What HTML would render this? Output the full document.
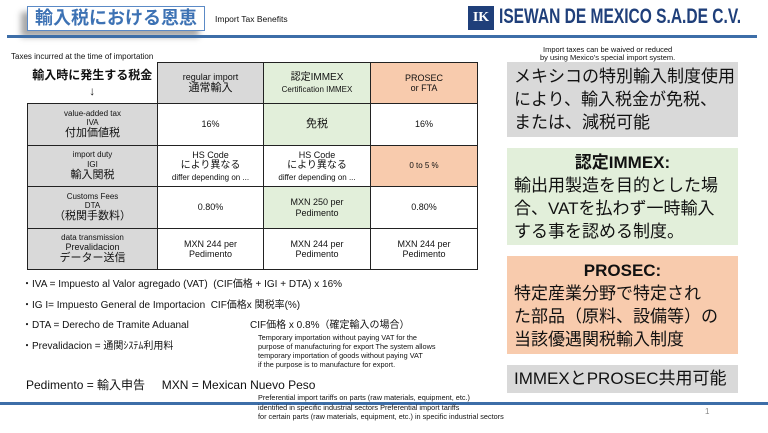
<!DOCTYPE html>
<html><head><meta charset="utf-8"><style>
*{margin:0;padding:0;box-sizing:border-box}
body{width:768px;height:433px;background:#fff;position:relative;overflow:hidden;font-family:"Liberation Sans","Noto Sans CJK JP",sans-serif;color:#111}
.a{position:absolute;white-space:nowrap}
table{position:absolute;left:27px;top:62px;border-collapse:collapse;table-layout:fixed}
td{border:1.3px solid #222;text-align:center;vertical-align:middle;font-size:9px;line-height:1.15;padding:0;overflow:hidden}
.g{background:#d9d9d9}.gr{background:#e2efda}.o{background:#f8cbad}
.s{font-size:8px}.j{font-size:11px}
.box{position:absolute;left:507px;width:231px;font-size:17px;line-height:23px;padding:3px 7px;color:#111;white-space:nowrap;overflow:hidden}
</style></head><body>
<div class="a" style="left:27px;top:6px;width:178px;height:25px;border:1.5px solid #5b8ac6;box-shadow:-6px 6px 6px rgba(0,0,0,.35);background:#fff;color:#3d72b4;font-size:18px;font-weight:bold;text-align:center;line-height:22px">輸入税における恩恵</div>
<div class="a" style="left:215px;top:14px;font-size:8.5px">Import Tax Benefits</div>
<div class="a" style="left:468px;top:6px;width:26px;height:24px;background:#1f3f7a;color:#fff;font-weight:bold;font-size:14px;text-align:center;line-height:24px;font-family:'Liberation Serif',serif">IK</div>
<div class="a" style="left:499px;top:5px;font-size:21px;font-weight:bold;color:#1f3f7a;transform:scaleX(.74);transform-origin:left">ISEWAN DE MEXICO S.A.DE C.V.</div>
<div class="a" style="left:7px;top:35px;width:750px;height:3px;background:#3d6ea8"></div>
<div class="a" style="left:11px;top:52px;font-size:8px">Taxes incurred at the time of importation</div>
<table>
<colgroup><col style="width:130px"><col style="width:106px"><col style="width:107px"><col style="width:107px"></colgroup>
<tr style="height:41px"><td style="border:none;font-weight:bold;font-size:12px;line-height:16px">輸入時に発生する税金<br>↓</td><td class="g">regular import<br><span class="j">通常輸入</span></td><td class="gr"><span style="font-size:10px">認定IMMEX</span><br><span class="s">Certification IMMEX</span></td><td class="o">PROSEC<br>or FTA</td></tr>
<tr style="height:42px"><td class="g s">value-added tax<br>IVA<br><span class="j">付加価値税</span></td><td>16%</td><td class="gr j">免税</td><td>16%</td></tr>
<tr style="height:41px"><td class="g s">import duty<br>IGI<br><span class="j">輸入関税</span></td><td>HS Code<br><span style="font-size:10px">により異なる</span><br><span class="s">differ depending on ...</span></td><td>HS Code<br><span style="font-size:10px">により異なる</span><br><span class="s">differ depending on ...</span></td><td class="o s">0 to 5 %</td></tr>
<tr style="height:42px"><td class="g s">Customs Fees<br>DTA<br><span class="j">（税関手数料）</span></td><td>0.80%</td><td class="gr">MXN 250 per<br>Pedimento</td><td>0.80%</td></tr>
<tr style="height:41px"><td class="g s">data transmission<br><span style="font-size:9px">Prevalidacion</span><br><span class="j">データー送信</span></td><td>MXN 244 per<br>Pedimento</td><td>MXN 244 per<br>Pedimento</td><td>MXN 244 per<br>Pedimento</td></tr>
</table>
<div class="a" style="left:22px;top:275px;font-size:10px">・IVA = Impuesto al Valor agregado (VAT) &nbsp;(CIF価格 + IGI + DTA) x 16%</div>
<div class="a" style="left:22px;top:296px;font-size:10px">・IG I= Impuesto General de Importacion &nbsp;CIF価格x 関税率(%)</div>
<div class="a" style="left:22px;top:316px;font-size:10px">・DTA = Derecho de Tramite Aduanal</div>
<div class="a" style="left:250px;top:316px;font-size:10px">CIF価格 x 0.8%（確定輸入の場合）</div>
<div class="a" style="left:22px;top:337px;font-size:10px">・Prevalidacion = 通関ｼｽﾃﾑ利用料</div>
<div class="a" style="left:258px;top:333px;font-size:7.3px;line-height:9px">Temporary importation without paying VAT for the<br>purpose of manufacturing for export The system allows<br>temporary importation of goods without paying VAT<br>if the purpose is to manufacture for export.</div>
<div class="a" style="left:26px;top:376px;font-size:12px">Pedimento = 輸入申告 &nbsp;&nbsp;&nbsp;&nbsp;MXN = Mexican Nuevo Peso</div>
<div class="a" style="left:0;top:402px;width:768px;height:3px;background:#3d6ea8"></div>
<div class="a" style="left:258px;top:393px;font-size:7.3px;line-height:9.5px">Preferential import tariffs on parts (raw materials, equipment, etc.)<br>identified in specific industrial sectors Preferential import tariffs<br>for certain parts (raw materials, equipment, etc.) in specific industrial sectors</div>
<div class="a" style="left:705px;top:407px;font-size:8px;color:#888">1</div>
<div class="a" style="left:540px;top:46px;font-size:7.5px;line-height:8px;text-align:center">Import taxes can be waived or reduced<br>by using Mexico's special import system.</div>
<div class="box" style="top:62px;height:75px;background:#d9d9d9">メキシコの特別輸入制度使用<br>により、輸入税金が免税、<br>または、減税可能</div>
<div class="box" style="top:148px;height:97px;background:#e2efda"><div style="text-align:center;font-weight:bold">認定IMMEX:</div>輸出用製造を目的とした場<br>合、VATを払わず一時輸入<br>する事を認める制度。</div>
<div class="box" style="top:256px;height:98px;background:#f8cbad"><div style="text-align:center;font-weight:bold">PROSEC:</div>特定産業分野で特定され<br>た部品（原料、設備等）の<br>当該優遇関税輸入制度</div>
<div class="box" style="top:365px;height:28px;background:#d9d9d9;line-height:22px">IMMEXとPROSEC共用可能</div>
</body></html>
